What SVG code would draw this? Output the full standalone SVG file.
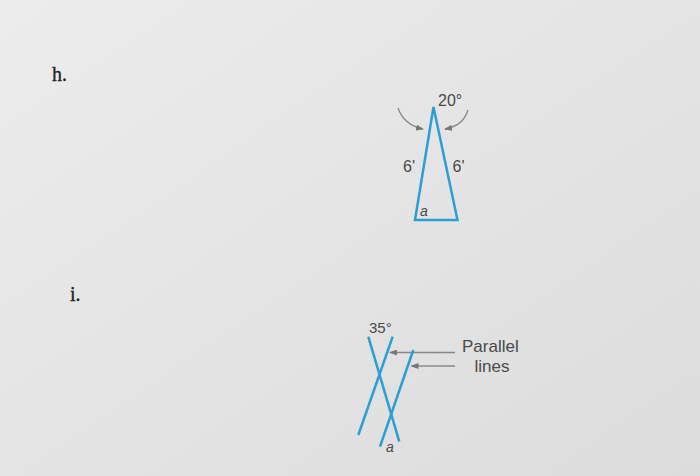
<svg xmlns="http://www.w3.org/2000/svg" width="700" height="476" viewBox="0 0 700 476">
<defs>
<linearGradient id="bg" x1="0" y1="0" x2="1" y2="1">
<stop offset="0" stop-color="#ececec"/>
<stop offset="1" stop-color="#dcdcdc"/>
</linearGradient>
<marker id="ah" markerWidth="8" markerHeight="6" refX="7" refY="3" orient="auto" markerUnits="userSpaceOnUse">
<path d="M0,0 L8,3 L0,6 Z" fill="#777"/>
</marker>
<style>
.blue{stroke:#2b9ed6;stroke-width:2.5;fill:none}
.lbl{font-family:"Liberation Sans",Arial,sans-serif;fill:#4a4a4a;font-size:15px}
.ital{font-style:italic;font-size:14px}
.big{font-size:17px}
.mid{font-size:16px}
.serif{font-family:"Liberation Serif","Times New Roman",serif;fill:#222;font-size:20px;stroke:#222;stroke-width:0.3}
.arr{stroke:#888;stroke-width:1.3;fill:none}
</style>
</defs>
<rect width="700" height="476" fill="url(#bg)"/>
<text class="serif" x="52" y="81">h.</text>
<text class="serif" x="70" y="301">i.</text>
<g id="triangle">
<polygon class="blue" points="433.5,107 415,220 457.5,220"/>
<text class="lbl mid" x="438" y="106">20°</text>
<text class="lbl mid" x="403" y="172">6'</text>
<text class="lbl mid" x="452.5" y="172">6'</text>
<text class="lbl ital" x="420" y="216">a</text>
</g>
<g id="connectors">
<path class="arr" d="M398,108 Q404,125 423,129" marker-end="url(#ah)"/>
<path class="arr" d="M468,110 Q463,126 445,129" marker-end="url(#ah)"/>
<line class="arr" x1="455" y1="352.5" x2="390" y2="352.5" marker-end="url(#ah)"/>
<line class="arr" x1="455" y1="366" x2="411.5" y2="366" marker-end="url(#ah)"/>
</g>
<g id="lines">
<line class="blue" x1="368.3" y1="336.7" x2="399.3" y2="441.7"/>
<line class="blue" x1="392.7" y1="336.7" x2="358.3" y2="435"/>
<line class="blue" x1="413.3" y1="350" x2="380" y2="446.7"/>
<text class="lbl" x="369" y="333">35°</text>
<text class="lbl ital" x="386" y="452">a</text>
</g>
<g id="parallel-label">
<text class="lbl big" x="462" y="352">Parallel</text>
<text class="lbl big" x="474.5" y="372">lines</text>
</g>
</svg>
